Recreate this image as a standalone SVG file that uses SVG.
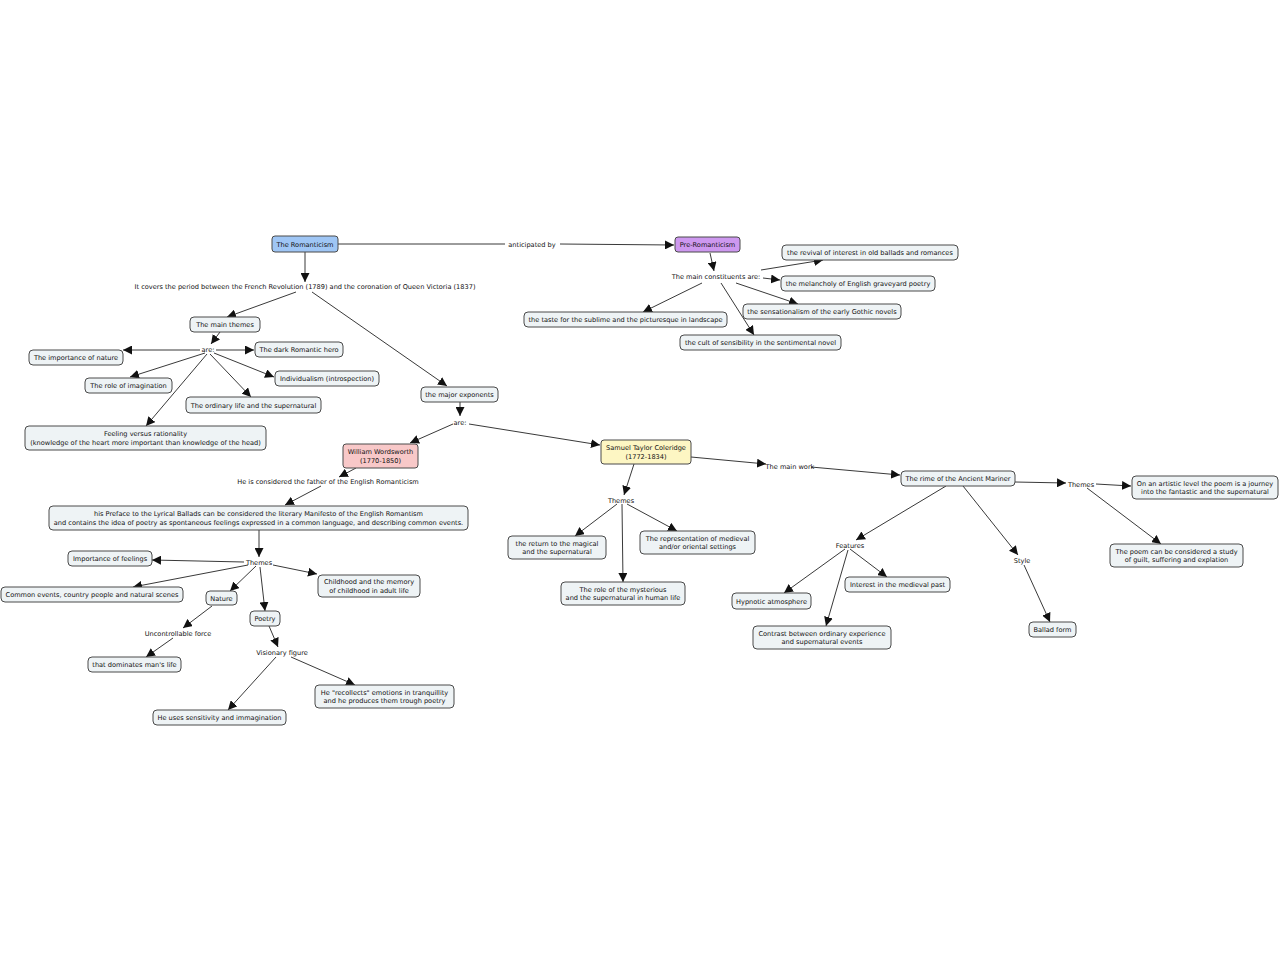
<svg xmlns="http://www.w3.org/2000/svg" width="1280" height="963" viewBox="0 0 1280 963">
<style>
.b{fill:#eef3f5;stroke:#4a4a4a;stroke-width:1}
text{font-family:"DejaVu Sans","Liberation Sans",sans-serif;font-size:6.6px;fill:#111;text-anchor:middle}
.c line{stroke:#222;stroke-width:0.9;marker-end:url(#a)}
.c line.n{marker-end:none}
</style>
<defs><marker id="a" viewBox="0 0 10 10" refX="10" refY="5" markerWidth="9" markerHeight="9" markerUnits="userSpaceOnUse" orient="auto"><path d="M0,0L10,5L0,10z" fill="#111"/></marker></defs>
<rect width="1280" height="963" fill="#fff"/>
<g class="c">
<line x1="338" y1="244" x2="505" y2="244" class="n"/><line x1="560" y1="244" x2="674" y2="245"/>
<line x1="305" y1="252" x2="305" y2="282"/>
<line x1="296" y1="292" x2="227" y2="317"/>
<line x1="312" y1="292" x2="447" y2="386"/>
<line x1="220" y1="332" x2="211" y2="344"/>
<line x1="200" y1="350" x2="123" y2="350"/>
<line x1="216" y1="350" x2="254" y2="350"/>
<line x1="205" y1="353" x2="130" y2="377"/>
<line x1="214" y1="353" x2="274" y2="377"/>
<line x1="210" y1="354" x2="251" y2="397"/>
<line x1="207" y1="354" x2="146" y2="426"/>
<line x1="460" y1="402" x2="460" y2="416"/>
<line x1="453" y1="424" x2="410" y2="443"/>
<line x1="469" y1="424" x2="600" y2="445"/>
<line x1="356" y1="468" x2="339" y2="477"/>
<line x1="321" y1="486" x2="285" y2="505"/>
<line x1="259" y1="530" x2="259" y2="557"/>
<line x1="244" y1="562" x2="152" y2="560"/>
<line x1="248" y1="565" x2="133" y2="587"/>
<line x1="273" y1="565" x2="317" y2="574"/>
<line x1="256" y1="566" x2="230" y2="591"/>
<line x1="260" y1="567" x2="265" y2="611"/>
<line x1="212" y1="606" x2="183" y2="628"/>
<line x1="173" y1="638" x2="146" y2="657"/>
<line x1="269" y1="626" x2="278" y2="647"/>
<line x1="276" y1="657" x2="228" y2="710"/>
<line x1="291" y1="657" x2="355" y2="685"/>
<line x1="710" y1="253" x2="714" y2="271"/>
<line x1="761" y1="270" x2="823" y2="260"/>
<line x1="763" y1="278" x2="780" y2="280"/>
<line x1="736" y1="283" x2="798" y2="304"/>
<line x1="702" y1="283" x2="643" y2="312"/>
<line x1="721" y1="283" x2="754" y2="335"/>
<line x1="634" y1="464" x2="624" y2="495"/>
<line x1="617" y1="504" x2="575" y2="536"/>
<line x1="627" y1="504" x2="677" y2="531"/>
<line x1="622" y1="504" x2="623" y2="582"/>
<line x1="691" y1="457" x2="766" y2="464"/>
<line x1="811" y1="467" x2="900" y2="475"/>
<line x1="1015" y1="482" x2="1066" y2="483"/>
<line x1="1096" y1="484" x2="1131" y2="486"/>
<line x1="1087" y1="488" x2="1161" y2="544"/>
<line x1="946" y1="486" x2="856" y2="540"/>
<line x1="963" y1="486" x2="1018" y2="555"/>
<line x1="1024" y1="565" x2="1050" y2="622"/>
<line x1="845" y1="549" x2="784" y2="593"/>
<line x1="850" y1="549" x2="887" y2="577"/>
<line x1="848" y1="550" x2="826" y2="626"/>
</g>
<g id="romanticism"><rect x="272" y="236" width="66" height="16" rx="3" fill="#9fc6f5" stroke="#4a4a4a"/><text x="305" y="246.5">The Romanticism</text></g>
<g id="pre"><rect x="675" y="237" width="65" height="15" rx="3" fill="#cd98ef" stroke="#4a4a4a"/><text x="707.5" y="247">Pre-Romanticism</text></g>
<g id="revival"><rect class="b" x="782" y="245" width="176" height="15" rx="4"/><text x="870" y="255">the revival of interest in old ballads and romances</text></g>
<g id="melancholy"><rect class="b" x="781" y="276" width="154" height="15" rx="4"/><text x="858" y="286">the melancholy of English graveyard poetry</text></g>
<g id="sensationalism"><rect class="b" x="743" y="304" width="158" height="15" rx="4"/><text x="822" y="314">the sensationalism of the early Gothic novels</text></g>
<g id="taste"><rect class="b" x="524" y="312" width="203" height="15" rx="4"/><text x="625.5" y="322">the taste for the sublime and the picturesque in landscape</text></g>
<g id="cult"><rect class="b" x="680" y="335" width="161" height="15" rx="4"/><text x="760.5" y="345">the cult of sensibility in the sentimental novel</text></g>
<g id="mainthemes"><rect class="b" x="190" y="317" width="70" height="15" rx="4"/><text x="225" y="327">The main themes</text></g>
<g id="nature1"><rect class="b" x="29" y="350" width="94" height="15" rx="4"/><text x="76" y="360">The importance of nature</text></g>
<g id="hero"><rect class="b" x="255" y="342" width="88" height="15" rx="4"/><text x="299" y="352">The dark Romantic hero</text></g>
<g id="imagination"><rect class="b" x="85" y="378" width="87" height="15" rx="4"/><text x="128.5" y="388">The role of imagination</text></g>
<g id="individualism"><rect class="b" x="275" y="371" width="104" height="15" rx="4"/><text x="327" y="381">Individualism (introspection)</text></g>
<g id="ordinary"><rect class="b" x="186" y="397" width="135" height="16" rx="4"/><text x="253.5" y="407.5">The ordinary life and the supernatural</text></g>
<g id="feeling"><rect class="b" x="25" y="426" width="241" height="24" rx="4"/><text x="145.5" y="436">Feeling versus rationality</text><text x="145.5" y="444.5">(knowledge of the heart more important than knowledge of the head)</text></g>
<g id="exponents"><rect class="b" x="421" y="387" width="77" height="15" rx="4"/><text x="459.5" y="397">the major exponents</text></g>
<g id="wordsworth"><rect x="343" y="444" width="75" height="24" rx="3" fill="#f8c8c8" stroke="#4a4a4a"/><text x="380.5" y="454">William Wordsworth</text><text x="380.5" y="462.5">(1770-1850)</text></g>
<g id="coleridge"><rect x="601" y="440" width="90" height="24" rx="3" fill="#fdf6c3" stroke="#4a4a4a"/><text x="646" y="450">Samuel Taylor Coleridge</text><text x="646" y="458.5">(1772-1834)</text></g>
<g id="preface"><rect class="b" x="49" y="506" width="419" height="24" rx="4"/><text x="258.5" y="516">his Preface to the Lyrical Ballads can be considered the literary Manifesto of the English Romantism</text><text x="258.5" y="524.5">and contains the idea of poetry as spontaneous feelings expressed in a common language, and describing common events.</text></g>
<g id="feelings"><rect class="b" x="68" y="551" width="84" height="15" rx="4"/><text x="110" y="561">Importance of feelings</text></g>
<g id="common"><rect class="b" x="1" y="587" width="182" height="15" rx="4"/><text x="92" y="597">Common events, country people and natural scenes</text></g>
<g id="nature2"><rect class="b" x="206" y="591" width="31" height="14" rx="4"/><text x="221.5" y="600.5">Nature</text></g>
<g id="childhood"><rect class="b" x="318" y="575" width="102" height="22" rx="4"/><text x="369" y="584">Childhood and the memory</text><text x="369" y="592.5">of childhood in adult life</text></g>
<g id="poetry"><rect class="b" x="250" y="611" width="30" height="15" rx="4"/><text x="265" y="621">Poetry</text></g>
<g id="dominates"><rect class="b" x="88" y="657" width="93" height="15" rx="4"/><text x="134.5" y="667">that dominates man's life</text></g>
<g id="sensitivity"><rect class="b" x="153" y="710" width="133" height="15" rx="4"/><text x="219.5" y="720">He uses sensitivity and immagination</text></g>
<g id="recollects"><rect class="b" x="315" y="685" width="139" height="23" rx="4"/><text x="384.5" y="694.5">He "recollects" emotions in tranquillity</text><text x="384.5" y="703">and he produces them trough poetry</text></g>
<g id="magical"><rect class="b" x="508" y="536" width="98" height="23" rx="4"/><text x="557" y="545.5">the return to the magical</text><text x="557" y="554">and the supernatural</text></g>
<g id="representation"><rect class="b" x="640" y="531" width="115" height="23" rx="4"/><text x="697.5" y="540.5">The representation of medieval</text><text x="697.5" y="549">and/or oriental settings</text></g>
<g id="mysterious"><rect class="b" x="561" y="582" width="124" height="23" rx="4"/><text x="623" y="591.5">The role of the mysterious</text><text x="623" y="600">and the supernatural in human life</text></g>
<g id="rime"><rect class="b" x="901" y="471" width="114" height="15" rx="4"/><text x="958" y="481">The rime of the Ancient Mariner</text></g>
<g id="artistic"><rect class="b" x="1132" y="476" width="146" height="23" rx="4"/><text x="1205" y="485.5">On an artistic level the poem is a journey</text><text x="1205" y="494">into the fantastic and the supernatural</text></g>
<g id="guilt"><rect class="b" x="1110" y="544" width="133" height="23" rx="4"/><text x="1176.5" y="553.5">The poem can be considered a study</text><text x="1176.5" y="562">of guilt, suffering and explation</text></g>
<g id="hypnotic"><rect class="b" x="732" y="593" width="79" height="16" rx="4"/><text x="771.5" y="603.5">Hypnotic atmosphere</text></g>
<g id="medieval"><rect class="b" x="845" y="577" width="105" height="15" rx="4"/><text x="897.5" y="587">Interest in the medieval past</text></g>
<g id="contrast"><rect class="b" x="753" y="626" width="138" height="23" rx="4"/><text x="822" y="635.5">Contrast between ordinary experience</text><text x="822" y="644">and supernatural events</text></g>
<g id="ballad"><rect class="b" x="1029" y="622" width="47" height="15" rx="4"/><text x="1052.5" y="632">Ballad form</text></g>
<g id="labels">
<text x="532" y="246.5">anticipated by</text>
<text x="305" y="289">It covers the period between the French Revolution (1789) and the coronation of Queen Victoria (1837)</text>
<text x="208" y="351.5">are:</text>
<text x="460" y="424.5">are:</text>
<text x="716" y="279">The main constituents are:</text>
<text x="328" y="483.5">He is considered the father of the English Romanticism</text>
<text x="259" y="564.5">Themes</text>
<text x="178" y="635.5">Uncontrollable force</text>
<text x="282" y="654.5">Visionary figure</text>
<text x="621" y="502.5">Themes</text>
<text x="790" y="468.5">The main work</text>
<text x="850" y="547.5">Features</text>
<text x="1022" y="562.5">Style</text>
<text x="1081" y="486.5">Themes</text>
</g>
</svg>
